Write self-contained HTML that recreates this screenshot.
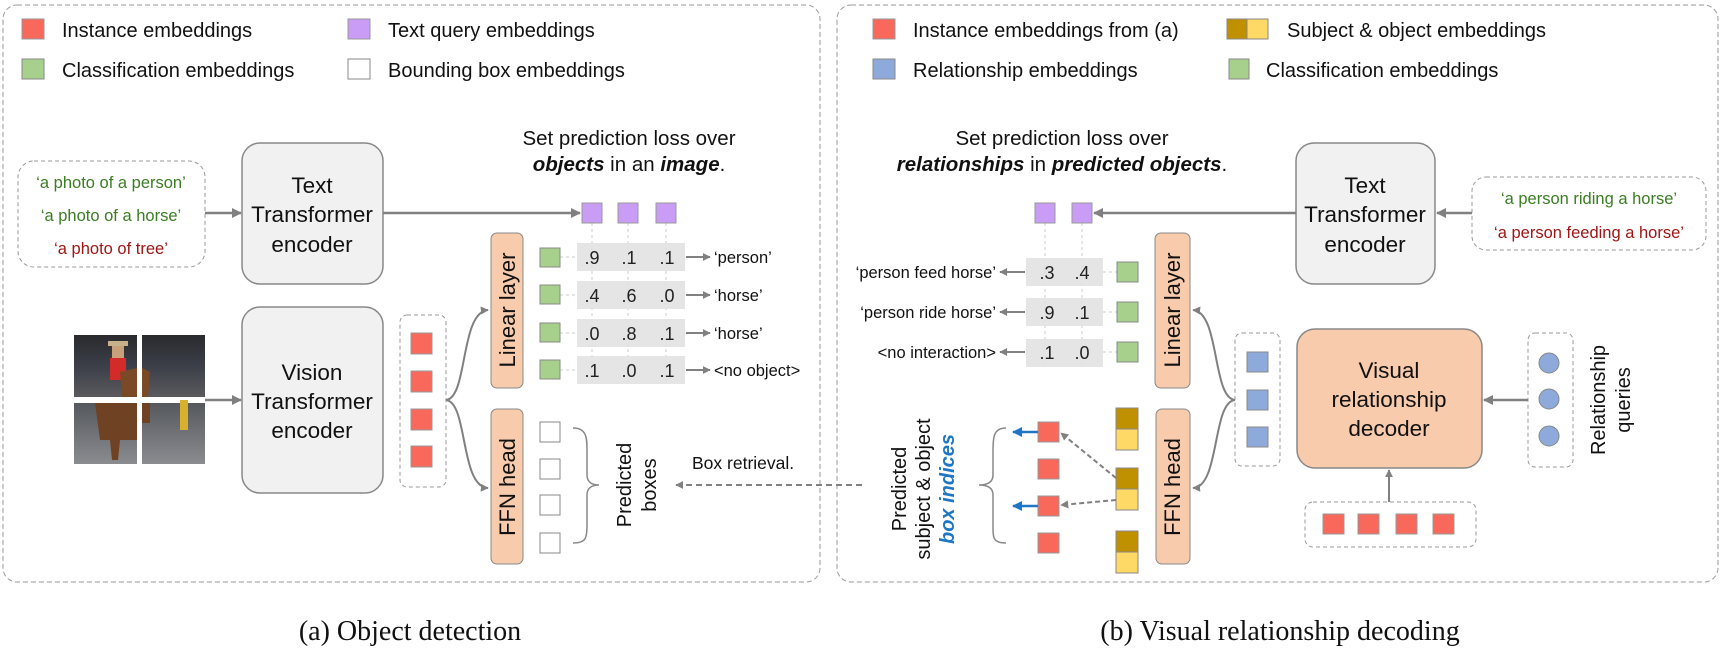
<!DOCTYPE html>
<html><head><meta charset="utf-8"><style>
html,body{margin:0;padding:0;background:#fff;}
svg{display:block;font-family:"Liberation Sans",Arial,sans-serif;}
</style></head><body>
<svg width="1721" height="648" viewBox="0 0 1721 648" xmlns="http://www.w3.org/2000/svg">
<defs>
<marker id="ar" viewBox="0 0 10 10" refX="9" refY="5" markerWidth="4" markerHeight="4" orient="auto"><path d="M0,0 L10,5 L0,10 z" fill="#808080"/></marker>
<marker id="ab" viewBox="0 0 10 10" refX="9" refY="5" markerWidth="4" markerHeight="4" orient="auto"><path d="M0,0 L10,5 L0,10 z" fill="#1f77c4"/></marker>
<linearGradient id="ph1" x1="0" y1="0" x2="0" y2="1"><stop offset="0" stop-color="#2a2a2e"/><stop offset="0.5" stop-color="#3b3f48"/><stop offset="1" stop-color="#5a5a5e"/></linearGradient>
<linearGradient id="ph2" x1="0" y1="0" x2="0" y2="1"><stop offset="0" stop-color="#55585c"/><stop offset="1" stop-color="#8a8c90"/></linearGradient>
</defs>

<!-- panels -->
<rect x="3" y="5" width="817" height="577" rx="14" fill="none" stroke="#999" stroke-dasharray="5,3"/>
<rect x="837" y="5" width="881" height="577" rx="14" fill="none" stroke="#999" stroke-dasharray="5,3"/>

<!-- legend left -->
<g font-size="20" fill="#111">
<rect x="22" y="19" width="22" height="20" fill="#f8695c" stroke="#999"/><text x="62" y="37">Instance embeddings</text>
<rect x="348" y="19" width="22" height="20" fill="#c99cf5" stroke="#999"/><text x="388" y="37">Text query embeddings</text>
<rect x="22" y="59" width="22" height="20" fill="#a8d08d" stroke="#888"/><text x="62" y="77">Classification embeddings</text>
<rect x="348" y="59" width="22" height="20" fill="#fff" stroke="#888"/><text x="388" y="77">Bounding box embeddings</text>
<!-- legend right -->
<rect x="873" y="19" width="22" height="20" fill="#f8695c" stroke="#999"/><text x="913" y="37">Instance embeddings from (a)</text>
<rect x="1227" y="19" width="20" height="20" fill="#bf9000" stroke="#888"/><rect x="1247" y="19" width="21" height="20" fill="#ffd966" stroke="#888"/><text x="1287" y="37">Subject &amp; object embeddings</text>
<rect x="873" y="59" width="22" height="20" fill="#8eaadb" stroke="#888"/><text x="913" y="77">Relationship embeddings</text>
<rect x="1229" y="59" width="20" height="20" fill="#a8d08d" stroke="#888"/><text x="1266" y="77">Classification embeddings</text>
</g>

<!-- LEFT -->
<rect x="18" y="161" width="187" height="106" rx="16" fill="none" stroke="#999" stroke-dasharray="4,3"/>
<g font-size="16.5" text-anchor="middle">
<text x="111" y="188" fill="#3a7d22">‘a photo of a person’</text>
<text x="111" y="221" fill="#3a7d22">‘a photo of a horse’</text>
<text x="111" y="254" fill="#a01515">‘a photo of tree’</text>
</g>
<line x1="205" y1="213" x2="241" y2="213" stroke="#808080" stroke-width="2.5" marker-end="url(#ar)"/>
<rect x="242" y="143" width="141" height="141" rx="18" fill="#f1f1f1" stroke="#888" stroke-width="1.5"/>
<g font-size="22.5" text-anchor="middle" fill="#111">
<text x="312" y="193">Text</text><text x="312" y="222">Transformer</text><text x="312" y="252">encoder</text>
</g>
<line x1="383" y1="213" x2="580" y2="213" stroke="#808080" stroke-width="2.5" marker-end="url(#ar)"/>

<g font-size="20.5" text-anchor="middle" fill="#111">
<text x="629" y="145">Set prediction loss over</text>
<text x="629" y="171"><tspan font-weight="bold" font-style="italic">objects</tspan> in an <tspan font-weight="bold" font-style="italic">image</tspan>.</text>
</g>
<!-- dashed vertical guides -->
<g stroke="#ccc" stroke-dasharray="3,3">
<line x1="592" y1="223" x2="592" y2="384"/><line x1="628" y1="223" x2="628" y2="384"/><line x1="666" y1="223" x2="666" y2="384"/>
<line x1="560" y1="257" x2="577" y2="257"/><line x1="560" y1="295" x2="577" y2="295"/><line x1="560" y1="333" x2="577" y2="333"/><line x1="560" y1="370" x2="577" y2="370"/>
</g>
<rect x="582" y="203" width="20" height="20" fill="#c99cf5" stroke="#999"/>
<rect x="618" y="203" width="20" height="20" fill="#c99cf5" stroke="#999"/>
<rect x="656" y="203" width="20" height="20" fill="#c99cf5" stroke="#999"/>

<rect x="491" y="233" width="32" height="155" rx="6" fill="#f8cbad" stroke="#888"/>
<text transform="translate(515,310) rotate(-90)" font-size="22" text-anchor="middle" fill="#111">Linear layer</text>
<rect x="491" y="409" width="32" height="155" rx="6" fill="#f8cbad" stroke="#888"/>
<text transform="translate(515,487) rotate(-90)" font-size="22" text-anchor="middle" fill="#111">FFN head</text>

<g fill="#e0e0e0" fill-opacity="0.85">
<rect x="577" y="243" width="108" height="28"/><rect x="577" y="281" width="108" height="28"/><rect x="577" y="319" width="108" height="28"/><rect x="577" y="356" width="108" height="28"/>
</g>
<g fill="#a8d08d" stroke="#888">
<rect x="540" y="248" width="20" height="19"/><rect x="540" y="285" width="20" height="19"/><rect x="540" y="323" width="20" height="19"/><rect x="540" y="360" width="20" height="19"/>
</g>
<g font-size="18" text-anchor="middle" fill="#222">
<text x="592" y="264">.9</text><text x="629" y="264">.1</text><text x="667" y="264">.1</text>
<text x="592" y="302">.4</text><text x="629" y="302">.6</text><text x="667" y="302">.0</text>
<text x="592" y="340">.0</text><text x="629" y="340">.8</text><text x="667" y="340">.1</text>
<text x="592" y="377">.1</text><text x="629" y="377">.0</text><text x="667" y="377">.1</text>
</g>
<g stroke="#808080" stroke-width="2" marker-end="url(#ar)">
<line x1="686" y1="257" x2="710" y2="257"/><line x1="686" y1="295" x2="710" y2="295"/><line x1="686" y1="333" x2="710" y2="333"/><line x1="686" y1="370" x2="710" y2="370"/>
</g>
<g font-size="16.5" fill="#111">
<text x="714" y="263">‘person’</text><text x="714" y="301">‘horse’</text><text x="714" y="339">‘horse’</text><text x="714" y="376">&lt;no object&gt;</text>
</g>

<!-- image -->
<rect x="74" y="335" width="63" height="62" fill="url(#ph1)"/>
<rect x="142" y="335" width="63" height="62" fill="url(#ph1)"/>
<rect x="74" y="403" width="63" height="61" fill="url(#ph2)"/>
<rect x="142" y="403" width="63" height="61" fill="url(#ph2)"/>
<rect x="110" y="358" width="16" height="22" fill="#d32a2a"/>
<rect x="112" y="346" width="12" height="12" fill="#c8a07a"/>
<rect x="108" y="341" width="20" height="5" fill="#c8b08a"/>
<path d="M120,372 L137,368 L137,397 L122,397 Z" fill="#7a4a26"/>
<path d="M142,368 L150,372 L148,397 L142,397 Z" fill="#7a4a26"/>
<path d="M95,403 L137,403 L137,440 L120,440 L118,460 L112,460 L110,440 L100,440 Z" fill="#6e4222"/>
<rect x="142" y="403" width="8" height="20" fill="#6e4222"/>
<rect x="180" y="400" width="8" height="30" fill="#d8b030"/>
<line x1="205" y1="400" x2="241" y2="400" stroke="#808080" stroke-width="2.5" marker-end="url(#ar)"/>

<rect x="242" y="307" width="141" height="186" rx="18" fill="#f1f1f1" stroke="#888" stroke-width="1.5"/>
<g font-size="22.5" text-anchor="middle" fill="#111">
<text x="312" y="380">Vision</text><text x="312" y="409">Transformer</text><text x="312" y="438">encoder</text>
</g>

<rect x="400" y="315" width="46" height="172" rx="7" fill="none" stroke="#999" stroke-dasharray="4,3"/>
<g fill="#f8695c" stroke="#999">
<rect x="411" y="333" width="21" height="21"/><rect x="411" y="371" width="21" height="21"/><rect x="411" y="409" width="21" height="21"/><rect x="411" y="446" width="21" height="21"/>
</g>
<g fill="none" stroke="#808080" stroke-width="2">
<path d="M446,400 C468,398 460,312 488,310" marker-end="url(#ar)"/>
<path d="M446,400 C468,402 460,487 488,488" marker-end="url(#ar)"/>
</g>
<g fill="#fff" stroke="#888">
<rect x="540" y="422" width="20" height="20"/><rect x="540" y="459" width="20" height="20"/><rect x="540" y="495" width="20" height="20"/><rect x="540" y="533" width="20" height="20"/>
</g>
<path d="M573,428 C588,428 587,440 587,455 L587,475 C587,482 592,485 599,485 C592,485 587,488 587,495 L587,525 C587,538 586,543 573,543" fill="none" stroke="#888" stroke-width="1.5"/>
<g font-size="20" text-anchor="middle" fill="#111">
<text transform="translate(631,485) rotate(-90)">Predicted</text>
<text transform="translate(656,485) rotate(-90)">boxes</text>
</g>
<text x="692" y="469" font-size="17.5" fill="#111">Box retrieval.</text>
<line x1="862" y1="485" x2="676" y2="485" stroke="#808080" stroke-width="2" stroke-dasharray="6,4" marker-end="url(#ar)"/>

<!-- RIGHT -->
<g font-size="20.5" text-anchor="middle" fill="#111">
<text x="1062" y="145">Set prediction loss over</text>
<text x="1062" y="171"><tspan font-weight="bold" font-style="italic">relationships</tspan> in <tspan font-weight="bold" font-style="italic">predicted objects</tspan>.</text>
</g>
<rect x="1296" y="143" width="139" height="141" rx="18" fill="#f1f1f1" stroke="#888" stroke-width="1.5"/>
<g font-size="22.5" text-anchor="middle" fill="#111">
<text x="1365" y="193">Text</text><text x="1365" y="222">Transformer</text><text x="1365" y="252">encoder</text>
</g>
<rect x="1472" y="177" width="234" height="73" rx="14" fill="none" stroke="#999" stroke-dasharray="4,3"/>
<g font-size="16.5" text-anchor="middle">
<text x="1589" y="204" fill="#3a7d22">‘a person riding a horse’</text>
<text x="1589" y="238" fill="#a01515">‘a person feeding a horse’</text>
</g>
<line x1="1472" y1="213" x2="1437" y2="213" stroke="#808080" stroke-width="2.5" marker-end="url(#ar)"/>
<line x1="1296" y1="213" x2="1094" y2="213" stroke="#808080" stroke-width="2.5" marker-end="url(#ar)"/>
<g stroke="#ccc" stroke-dasharray="3,3">
<line x1="1045" y1="223" x2="1045" y2="367"/><line x1="1082" y1="223" x2="1082" y2="367"/>
<line x1="1103" y1="272" x2="1117" y2="272"/><line x1="1103" y1="312" x2="1117" y2="312"/><line x1="1103" y1="352" x2="1117" y2="352"/>
</g>
<rect x="1035" y="203" width="20" height="20" fill="#c99cf5" stroke="#999"/>
<rect x="1072" y="203" width="20" height="20" fill="#c99cf5" stroke="#999"/>
<g fill="#e0e0e0" fill-opacity="0.85">
<rect x="1026" y="258" width="77" height="28"/><rect x="1026" y="298" width="77" height="28"/><rect x="1026" y="339" width="77" height="28"/>
</g>
<g fill="#a8d08d" stroke="#888">
<rect x="1117" y="262" width="21" height="20"/><rect x="1117" y="302" width="21" height="20"/><rect x="1117" y="342" width="21" height="20"/>
</g>
<g font-size="18" text-anchor="middle" fill="#222">
<text x="1047" y="279">.3</text><text x="1082" y="279">.4</text>
<text x="1047" y="319">.9</text><text x="1082" y="319">.1</text>
<text x="1047" y="359">.1</text><text x="1082" y="359">.0</text>
</g>
<g stroke="#808080" stroke-width="2" marker-end="url(#ar)">
<line x1="1025" y1="272" x2="1000" y2="272"/><line x1="1025" y1="312" x2="1000" y2="312"/><line x1="1025" y1="352" x2="1000" y2="352"/>
</g>
<g font-size="16.5" fill="#111" text-anchor="end">
<text x="996" y="278">‘person feed horse’</text><text x="996" y="318">‘person ride horse’</text><text x="996" y="358">&lt;no interaction&gt;</text>
</g>
<rect x="1155" y="233" width="35" height="155" rx="6" fill="#f8cbad" stroke="#888"/>
<text transform="translate(1180,310) rotate(-90)" font-size="22" text-anchor="middle" fill="#111">Linear layer</text>
<rect x="1156" y="409" width="34" height="155" rx="6" fill="#f8cbad" stroke="#888"/>
<text transform="translate(1180,487) rotate(-90)" font-size="22" text-anchor="middle" fill="#111">FFN head</text>

<rect x="1235" y="333" width="45" height="133" rx="7" fill="none" stroke="#999" stroke-dasharray="4,3"/>
<g fill="#8eaadb" stroke="#888">
<rect x="1247" y="352" width="21" height="20"/><rect x="1247" y="390" width="21" height="20"/><rect x="1247" y="427" width="21" height="20"/>
</g>
<g fill="none" stroke="#808080" stroke-width="2">
<path d="M1235,400 C1212,398 1220,312 1193,310" marker-end="url(#ar)"/>
<path d="M1235,400 C1212,402 1220,487 1193,488" marker-end="url(#ar)"/>
</g>
<rect x="1297" y="329" width="185" height="139" rx="18" fill="#f8cbad" stroke="#888" stroke-width="1.5"/>
<g font-size="22.5" text-anchor="middle" fill="#111">
<text x="1389" y="378">Visual</text><text x="1389" y="407">relationship</text><text x="1389" y="436">decoder</text>
</g>
<rect x="1528" y="333" width="45" height="134" rx="7" fill="none" stroke="#999" stroke-dasharray="4,3"/>
<g fill="#8eaadb" stroke="#888">
<circle cx="1549" cy="363" r="10"/><circle cx="1549" cy="399" r="10"/><circle cx="1549" cy="436" r="10"/>
</g>
<line x1="1528" y1="400" x2="1484" y2="400" stroke="#808080" stroke-width="2.5" marker-end="url(#ar)"/>
<g font-size="20" text-anchor="middle" fill="#111">
<text transform="translate(1605,400) rotate(-90)">Relationship</text>
<text transform="translate(1630,400) rotate(-90)">queries</text>
</g>
<rect x="1305" y="502" width="171" height="45" rx="8" fill="none" stroke="#999" stroke-dasharray="4,3"/>
<g fill="#f8695c" stroke="#999">
<rect x="1323" y="514" width="21" height="20"/><rect x="1358" y="514" width="21" height="20"/><rect x="1396" y="514" width="21" height="20"/><rect x="1433" y="514" width="21" height="20"/>
</g>
<line x1="1389" y1="502" x2="1389" y2="470" stroke="#808080" stroke-width="2" marker-end="url(#ar)"/>

<!-- subject/object stacks -->
<g stroke="#888">
<rect x="1116" y="408" width="22" height="21" fill="#bf9000"/><rect x="1116" y="429" width="22" height="21" fill="#ffd966"/>
<rect x="1116" y="468" width="22" height="21" fill="#bf9000"/><rect x="1116" y="489" width="22" height="21" fill="#ffd966"/>
<rect x="1116" y="531" width="22" height="21" fill="#bf9000"/><rect x="1116" y="552" width="22" height="21" fill="#ffd966"/>
</g>
<g fill="#f8695c" stroke="#999">
<rect x="1038" y="422" width="21" height="20"/><rect x="1038" y="459" width="21" height="20"/><rect x="1038" y="496" width="21" height="20"/><rect x="1038" y="533" width="21" height="20"/>
</g>
<g stroke="#808080" stroke-width="2" stroke-dasharray="5,3" marker-end="url(#ar)">
<line x1="1116" y1="478" x2="1061" y2="433"/>
<line x1="1116" y1="500" x2="1061" y2="505"/>
</g>
<g stroke="#1f77c4" stroke-width="2.5" marker-end="url(#ab)">
<line x1="1038" y1="432" x2="1013" y2="432"/><line x1="1038" y1="506" x2="1013" y2="506"/>
</g>
<path d="M1006,428 C993,428 993,438 993,452 L993,475 C993,482 988,485 979,485 C988,485 993,488 993,495 L993,525 C993,538 993,543 1006,543" fill="none" stroke="#888" stroke-width="1.5"/>
<g font-size="20" text-anchor="middle" fill="#111">
<text transform="translate(906,489) rotate(-90)">Predicted</text>
<text transform="translate(930,489) rotate(-90)">subject &amp; object</text>
<text transform="translate(954,489) rotate(-90)" fill="#1f77c4" font-weight="bold" font-style="italic">box indices</text>
</g>

<!-- captions -->
<g font-family="'Liberation Serif',serif" font-size="28" text-anchor="middle" fill="#111">
<text x="410" y="640">(a) Object detection</text>
<text x="1280" y="640">(b) Visual relationship decoding</text>
</g>
</svg>
</body></html>
